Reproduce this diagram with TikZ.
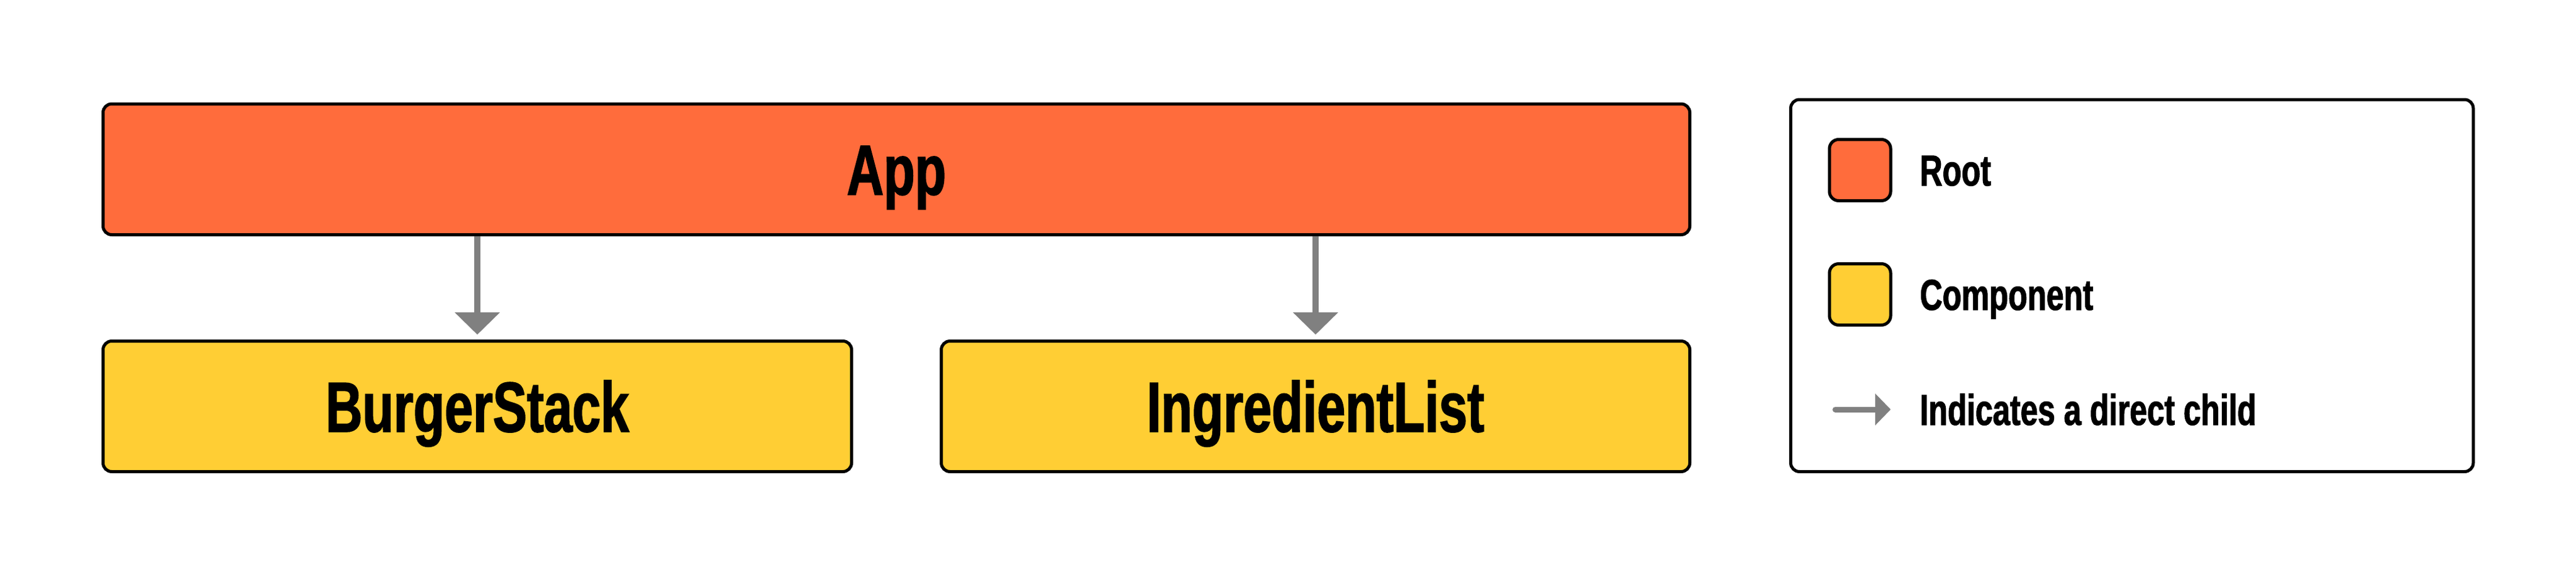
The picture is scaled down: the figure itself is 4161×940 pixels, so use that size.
\documentclass[tikz,border=0pt]{standalone}
\usepackage{fontspec}
\setmainfont{Liberation Sans}[FakeStretch=0.72, BoldFeatures={FakeBold=1.5}]
\usetikzlibrary{arrows.meta}
\definecolor{rootc}{HTML}{FF6C3C}
\definecolor{compc}{HTML}{FFCE34}
\definecolor{arrowc}{HTML}{808080}
\begin{document}
\begin{tikzpicture}[x=1pt,y=-1pt,
  box/.style={draw=black, line width=5pt, rounded corners=14pt, inner sep=0pt,
    text height=82pt, text depth=0pt,
    font=\bfseries\fontsize{114.5pt}{137pt}\selectfont},
  legendbox/.style={draw=black, fill=white, line width=5pt, rounded corners=14pt, inner sep=0pt},
  swatch/.style={draw=black, line width=5pt, rounded corners=15pt, inner sep=0pt, minimum size=99pt},
  legtext/.style={anchor=west, inner sep=0pt, text height=50pt, text depth=0pt,
    font=\bfseries\fontsize{70pt}{84pt}\selectfont},
  childarrow/.style={draw=arrowc, line width=10pt, -{Triangle[length=36pt,width=71pt]}, shorten >=8pt},
  legarrow/.style={draw=arrowc, line width=9pt, line cap=round, -{Triangle[length=25pt,width=50pt]}}
]
\useasboundingbox (0,0) rectangle (4161,940);
% main boxes
\node[box, fill=rootc, minimum width=2563pt, minimum height=211.5pt] (app) at (1448,273.75) {App};
\node[box, fill=compc, minimum width=1209pt, minimum height=211pt] (burger) at (771,657) {BurgerStack};
\node[box, fill=compc, minimum width=1209pt, minimum height=211pt] (ingr) at (2125,657) {IngredientList};
% connectors
\draw[childarrow] (burger.north |- app.south) -- (burger.north);
\draw[childarrow] (ingr.north |- app.south) -- (ingr.north);
% legend
\node[legendbox, minimum width=1102.5pt, minimum height=601.5pt] (legend) at (3443.75,461.75) {};
\node[swatch, fill=rootc] (rootsw) at (3004.5,275) {};
\node[legtext] (roottxt) at (3101,275) {Root};
\node[swatch, fill=compc] (compsw) at (3004.5,476) {};
\node[legtext] (comptxt) at (3101,476) {Component};
\coordinate (la1) at (2964.5,662);
\coordinate (la2) at (3054,662);
\draw[legarrow] (la1) -- (la2);
\node[legtext] (arrtxt) at (3101,662) {Indicates a direct child};
\end{tikzpicture}
\end{document}
